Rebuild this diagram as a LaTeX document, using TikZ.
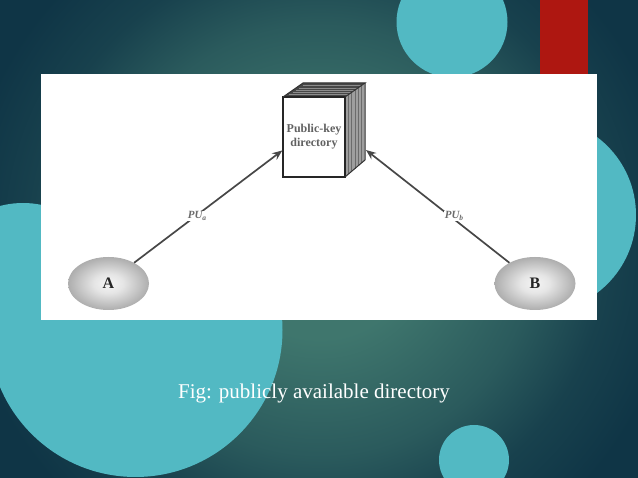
\documentclass[tikz,border=0pt]{standalone}
\usepackage{fontspec}
\setmainfont{Liberation Serif}
\usetikzlibrary{arrows.meta,shapes.geometric}
\definecolor{teal1}{HTML}{52B9C3}
\definecolor{bgin}{HTML}{41796F}
\definecolor{bgout}{HTML}{0F3546}
\definecolor{redbar}{HTML}{AE1711}
\pgfdeclareradialshading{egg}{\pgfpoint{0bp}{0bp}}{color(0bp)=(white!96!black); color(9bp)=(white!90!black); color(25bp)=(black!32); color(50bp)=(black!32)}
\pgfdeclareradialshading{slide}{\pgfpoint{0bp}{0bp}}{color(0bp)=(bgin); color(7bp)=(bgin!95!bgout); color(15bp)=(bgin!55!bgout); color(20bp)=(bgin!18!bgout); color(25bp)=(bgout); color(50bp)=(bgout)}
\tikzset{
  x=1pt,y=-1pt,
  disc/.style={fill=teal1,draw=none},
  party/.style={ellipse,minimum width=81pt,minimum height=53pt,inner sep=0pt,
     shading=egg,font=\bfseries\fontsize{16}{16}\selectfont,text=black!85},
  keylabel/.style={fill=white,inner sep=.5pt,font=\bfseries\itshape\fontsize{11}{11}\selectfont,text=black!58},
  link/.style={draw=black!72,line width=1.7pt,-{Stealth[length=10pt,width=8pt]}},
}
\newcommand{\subidx}[1]{\raisebox{-2pt}{\fontsize{7.5}{8}\selectfont #1}}
\begin{document}
\begin{tikzpicture}
\useasboundingbox (0,0) rectangle (638,478);
\begin{scope}
\clip (0,0) rectangle (638,478);
\fill[bgout] (0,0) rectangle (638,478);
\shade[shading=slide] (320,240) circle (360);
\fill[disc] (452,22) circle (55.5);
\fill[disc] (538.5,215) circle (97.5);
\fill[disc] (135.5,330) circle (147);
\fill[disc] (23,293) circle (90);
\fill[disc] (474,460) circle (35);
\fill[redbar] (540,0) rectangle (588,80);
\end{scope}
\fill[white] (41,74) rectangle (597,320);
% book
\fill[black!72] (283,97) -- (303,83) -- (365,83) -- (345,97) -- cycle;
\foreach \i in {1,2,...,5}{
  \draw[black!45,line width=.5pt] ({345+\i*3.3},{97-\i*2.3}) -- ({283+\i*3.3+3},{97-\i*2.3});
}
\fill[black!38] (345,97) -- (365,83) -- (365,160) -- (345,177) -- cycle;
\foreach \i in {1,2,...,5}{
  \draw[black!58,line width=.7pt] ({345+\i*3.33},{97-\i*2.33}) -- ({345+\i*3.33},{177-\i*2.83});
}
\node[draw=black!85,line width=1.4pt,fill=white,minimum width=62pt,minimum height=80pt,inner sep=0pt,
      align=center,font=\bfseries\fontsize{12}{14}\selectfont,text=black!62] (dir) at (314,137) {Public-key\\directory};
\draw[black!80,line width=1pt] (345,97) -- (365,83) -- (303,83) -- (283,97);
\draw[black!80,line width=1pt] (365,83) -- (365,160) -- (345,177);
\coordinate (dirR) at (366,150);
\node[party] (A) at (108.5,283.5) {A};
\node[party] (B) at (535,283.5) {B};
\draw[link] (A.39) -- (dir.203);
\draw[link] (B.141) -- (dirR);
\node[keylabel] (pua) at (197,216) {PU\subidx{a}};
\node[keylabel] (pub) at (454,216) {PU\subidx{b}};
\node[text=white,font=\fontsize{21}{23}\selectfont,inner sep=0pt] (cap) at (314,393) {Fig: publicly available directory};
\end{tikzpicture}
\end{document}
